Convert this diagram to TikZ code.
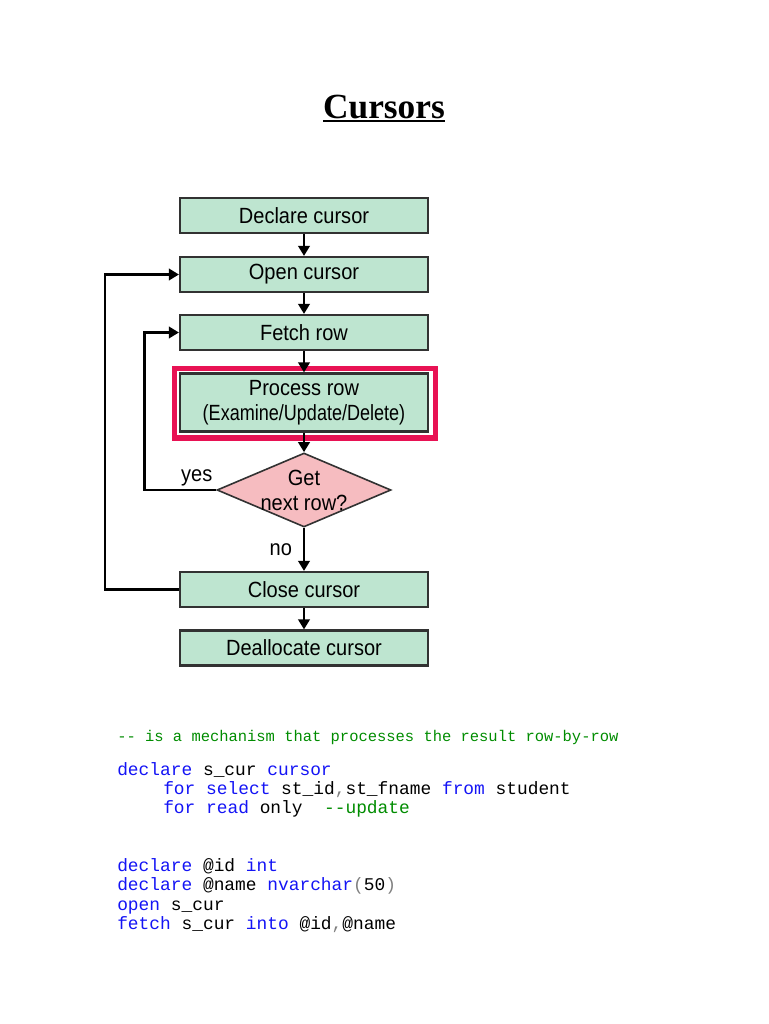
\documentclass[tikz,border=0pt]{standalone}
\usepackage{fontspec}
\setmainfont{Liberation Serif}
\setmonofont{Liberation Mono}
\newfontfamily\boxfont[FakeStretch=0.91]{Liberation Sans}
\newfontfamily\boxfontnarrow[FakeStretch=0.82]{Liberation Sans}
\usetikzlibrary{shapes.geometric,arrows.meta}

\definecolor{boxgreen}{RGB}{190,229,208}
\definecolor{boxline}{RGB}{50,50,50}
\definecolor{decpink}{RGB}{246,188,192}
\definecolor{framered}{RGB}{232,18,84}
\definecolor{sqlblue}{RGB}{20,20,245}
\definecolor{sqlgreen}{RGB}{0,140,0}
\definecolor{sqlgray}{RGB}{128,128,128}

\newcommand\sqlkw[1]{\textcolor{sqlblue}{#1}}
\newcommand\sqlcmt[1]{\textcolor{sqlgreen}{#1}}
\newcommand\sqlpun[1]{\textcolor{sqlgray}{#1}}
\newcommand\titleul[1]{{\setbox0\hbox{#1}\rlap{\rule[-3pt]{\wd0}{1.5pt}}\box0}}

\tikzset{
  stepbox/.style={draw=boxline, fill=boxgreen, line width=1.6pt,
    minimum width=186pt, minimum height=26.25pt, inner sep=0pt,
    align=center, font=\boxfont\fontsize{16.5}{18.75}\selectfont},
  decision/.style={diamond, draw=boxline, fill=decpink, line width=1.2pt,
    minimum width=130.5pt, minimum height=55.5pt, inner sep=0pt},
  flow/.style={line width=2pt, -{Triangle[length=7.5pt,width=8.5pt]}},
  flowlabel/.style={inner sep=2pt, font=\boxfont\fontsize{16.5}{18}\selectfont},
  codeline/.style={anchor=base west, inner sep=0pt, font=\ttfamily\fontsize{13.4}{15}\selectfont},
}

\begin{document}
\begin{tikzpicture}[x=0.75pt,y=-0.75pt]
  \useasboundingbox (0,0) rectangle (768,1024);

  % title
  \node[anchor=base, inner sep=0pt, font=\bfseries\fontsize{26.5}{30}\selectfont] (title) at (384,118) {\titleul{Cursors}};

  % flow chart
  \node[stepbox] (declare) at (304,215.5) {Declare cursor};
  \node[stepbox] (open) at (304,274.5) {Open cursor};
  \node[stepbox] (fetch) at (304,332.5) {Fetch row};
  \node[stepbox, minimum height=43.5pt] (process) at (304,402.5) {Process row\\{\boxfontnarrow(Examine/Update/Delete)}};
  \draw[draw=framered, line width=3.9pt] (174.5,368.5) rectangle (435.5,438);
  \node[decision, label={[align=center, font=\boxfont\fontsize{16.5}{18.75}\selectfont]center:Get\\next row?}] (getnext) at (304,490) {};
  \node[stepbox] (close) at (304,589.5) {Close cursor};
  \node[stepbox] (dealloc) at (304,648) {Deallocate cursor};

  \draw[flow] (declare) -- (open);
  \draw[flow] (open) -- (fetch);
  \draw[flow] (fetch) -- (process);
  \draw[flow] (process) -- (getnext);
  \draw[flow] (getnext) -- node[flowlabel, left, xshift=-6pt] (nolabel) {no} (close);
  \draw[flow] (close) -- (dealloc);
  \draw[flow] (getnext.west) -- node[flowlabel, pos=0.27, above] (yeslabel) {yes} ++(-72,0) |- (fetch.west);
  \draw[flow] (close.west) -- ++(-74,0) |- (open.west);

  % code
  \node[codeline, font=\ttfamily\fontsize{11.6}{14}\selectfont] (cmt) at (117,741) {\sqlcmt{-- is a mechanism that processes the result row-by-row}};
  \node[codeline] (c1) at (117,775) {\sqlkw{declare} s\_cur \sqlkw{cursor}};
  \node[codeline] (c2) at (163,794) {\sqlkw{for} \sqlkw{select} st\_id\sqlpun{,}st\_fname \sqlkw{from} student};
  \node[codeline] (c3) at (163,813) {\sqlkw{for} \sqlkw{read} only\ \ \sqlcmt{--update}};
  \node[codeline] (c4) at (117,871.5) {\sqlkw{declare} @id \sqlkw{int}};
  \node[codeline] (c5) at (117,890.5) {\sqlkw{declare} @name \sqlkw{nvarchar}\sqlpun{(}50\sqlpun{)}};
  \node[codeline] (c6) at (117,910) {\sqlkw{open} s\_cur};
  \node[codeline] (c7) at (117,929) {\sqlkw{fetch} s\_cur \sqlkw{into} @id\sqlpun{,}@name};
\end{tikzpicture}
\end{document}
